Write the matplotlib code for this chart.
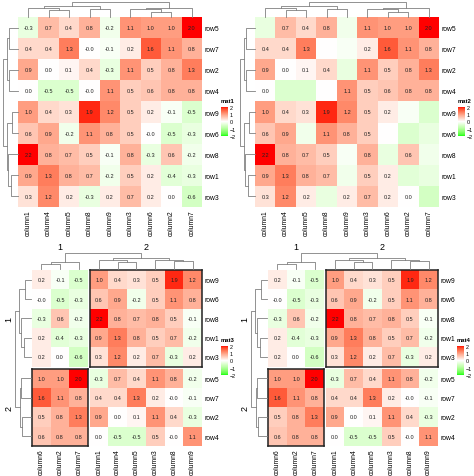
import numpy as np
import matplotlib
matplotlib.use("Agg")
import matplotlib.pyplot as plt
import matplotlib.cm as cm
from matplotlib.colors import ListedColormap, Normalize

plt.rcParams["font.family"] = ["Liberation Sans", "DejaVu Sans"]

rows = ["row1", "row2", "row3", "row4", "row5", "row6", "row7", "row8", "row9"]
cols = ["column1", "column2", "column3", "column4", "column5",
        "column6", "column7", "column8", "column9"]
values = np.array([
    [0.9, -0.4, 0.5, 1.3, 0.8, 0.2, -0.3, 0.7, -0.2],    # row1
    [0.9, 0.8, 1.1, 0.0, 0.1, 0.5, 1.3, 0.4, -0.3],      # row2
    [0.3, 0.0, 0.7, 1.2, 0.2, 0.2, -0.6, -0.3, 0.2],     # row3
    [0.0, 0.8, 0.5, -0.5, -0.5, 0.6, 0.8, -0.0, 1.1],    # row4
    [-0.3, 1.0, 1.1, 0.7, 0.4, 1.0, 2.0, 0.8, -0.2],     # row5
    [0.6, -0.5, 0.5, 0.9, -0.2, -0.0, -0.3, 1.1, 0.8],   # row6
    [0.4, 1.1, 0.2, 0.4, 1.3, 1.6, 0.8, -0.0, -0.1],     # row7
    [2.2, 0.6, 0.8, 0.8, 0.7, -0.3, -0.2, 0.5, -0.1],    # row8
    [1.0, -0.1, 0.5, 0.4, 0.3, 0.2, -0.5, 1.9, 1.2],     # row9
])

# tree shapes as seen in the figure (heights come from complete linkage)
row_tree = ((("row5", "row7"), ("row2", "row4")),
            (("row9", "row6"), ("row8", ("row1", "row3"))))
col_tree = ((("column1", ("column4", "column5")), ("column8", "column9")),
            (("column3", ("column6", "column2")), "column7"))
row_split_trees = [(("row9", "row6"), ("row8", ("row1", "row3"))),
                   (("row5", "row7"), ("row2", "row4"))]
col_split_trees = [(("column6", "column2"), "column7"),
                   (("column1", ("column4", "column5")), ("column3", ("column8", "column9")))]

breaks = [-2, 0, 2]
stops = [(0, 1, 0), (1, 1, 1), (1, 0, 0)]

W, H = 474, 477
fig = plt.figure(figsize=(W / 100, H / 100), dpi=100)

# --- colour ramp interpolated in LAB, like colorRamp2
M = np.array([[0.4124, 0.3576, 0.1805], [0.2126, 0.7152, 0.0722], [0.0193, 0.1192, 0.9505]])
wref = np.array([0.95047, 1.0, 1.08883])


def rgb_to_lab(rgb):
    c = np.asarray(rgb, float)
    lin = np.where(c > 0.04045, ((c + 0.055) / 1.055) ** 2.4, c / 12.92)
    xyz = M @ lin / wref
    f = np.where(xyz > 0.008856, np.cbrt(xyz), 7.787 * xyz + 16 / 116)
    return np.array([116 * f[1] - 16, 500 * (f[0] - f[1]), 200 * (f[1] - f[2])])


def lab_to_rgb(lab):
    L, a, b = lab
    fy = (L + 16) / 116
    f = np.array([fy + a / 500, fy, fy - b / 200])
    xyz = np.where(f ** 3 > 0.008856, f ** 3, (f - 16 / 116) / 7.787) * wref
    lin = np.clip(np.linalg.solve(M, xyz), 0, 1)
    c = np.where(lin > 0.0031308, 1.055 * lin ** (1 / 2.4) - 0.055, 12.92 * lin)
    return np.clip(c, 0, 1)


labs = [rgb_to_lab(s) for s in stops]
ramp = []
for v in np.linspace(-2, 2, 256):
    k = 0 if v < 0 else 1
    t = (v - breaks[k]) / (breaks[k + 1] - breaks[k])
    ramp.append(lab_to_rgb((1 - t) * labs[k] + t * labs[k + 1]))
cmap = ListedColormap(ramp)
norm = Normalize(-2, 2)


def add_ax(x, y, w, h):
    return fig.add_axes([x / W, 1 - (y + h) / H, w / W, h / H])


def leaves(t):
    return [t] if isinstance(t, str) else leaves(t[0]) + leaves(t[1])


def vec(name):
    if name in rows:
        return values[rows.index(name)]
    return values[:, cols.index(name)]


def height(t):
    a, b = leaves(t[0]), leaves(t[1])
    return max(np.linalg.norm(vec(p) - vec(q)) for p in a for q in b)


def layout(t, pos):
    if isinstance(t, str):
        return pos[t], 0.0, []
    c1, h1, s1 = layout(t[0], pos)
    c2, h2, s2 = layout(t[1], pos)
    h = height(t)
    return (c1 + c2) / 2, h, s1 + s2 + [[(c1, h1), (c1, h), (c2, h), (c2, h2)]]


def tree_segments(trees, pos):
    if len(trees) == 1:
        return layout(trees[0], pos)[1:]
    ca, ha, sa = layout(trees[0], pos)
    cb, hb, sb = layout(trees[1], pos)
    hp = 1.4 * max(ha, hb)
    return hp, sa + sb + [[(ca, ha), (ca, hp), (cb, hp), (cb, hb)]]


def draw_dendro(ax, trees, pos, size, horizontal):
    hmax, segs = tree_segments(trees, pos)
    for s in segs:
        p, h = zip(*s)
        if horizontal:
            ax.plot(p, h, color="#808080", lw=0.6, clip_on=False)
        else:
            ax.plot(h, p, color="#808080", lw=0.6, clip_on=False)
    if horizontal:
        ax.set_xlim(0, size)
        ax.set_ylim(0, hmax)
    else:
        ax.set_xlim(hmax, 0)
        ax.set_ylim(size, 0)
    ax.axis("off")


def draw_cells(ax, rnames, cnames, show_neg, row_lab, col_lab, box):
    sub = values[np.ix_([rows.index(r) for r in rnames], [cols.index(c) for c in cnames])]
    ax.pcolormesh(sub, cmap=cmap, norm=norm)
    ax.set_xlim(0, len(cnames))
    ax.set_ylim(len(rnames), 0)
    for i in range(len(rnames)):
        for j in range(len(cnames)):
            v = sub[i, j]
            if show_neg or np.copysign(1, v) > 0:
                ax.text(j + 0.5, i + 0.5, f"{v:.1f}", ha="center", va="center",
                        fontsize=4.0, color="#222222")
    ax.yaxis.tick_right()
    if row_lab:
        ax.set_yticks(np.arange(len(rnames)) + 0.5, rnames, fontsize=4.9)
    else:
        ax.set_yticks([])
    if col_lab:
        ax.set_xticks(np.arange(len(cnames)) + 0.5, cnames, fontsize=4.9, rotation=90)
    else:
        ax.set_xticks([])
    ax.tick_params(length=0, pad=1.6)
    for s in ax.spines.values():
        s.set_visible(box)
        s.set_linewidth(1.1)
        s.set_color("#222222")


def draw_legend(x, y, name):
    fig.text(x / W, 1 - y / H, name, fontsize=4.2, fontweight="bold", va="bottom")
    cax = add_ax(x, y + 4, 7, 29)
    cb = fig.colorbar(cm.ScalarMappable(norm=norm, cmap=cmap), cax=cax, ticks=[-2, -1, 0, 1, 2])
    cb.outline.set_visible(False)
    cax.tick_params(labelsize=3.9, length=0, pad=1.0)


def plain_panel(ox, name, show_neg):
    bx, by, bw, bh = ox + 18, 18, 184, 190
    rnames, cnames = leaves(row_tree), leaves(col_tree)
    body = add_ax(bx, by, bw, bh)
    draw_cells(body, rnames, cnames, show_neg, True, True, False)
    cw, ch = bw / len(cnames), bh / len(rnames)
    draw_dendro(add_ax(bx, 3, bw, 14.5), [col_tree],
                {c: (j + 0.5) * cw for j, c in enumerate(cnames)}, bw, True)
    draw_dendro(add_ax(ox + 2.5, by, 15, bh), [row_tree],
                {r: (i + 0.5) * ch for i, r in enumerate(rnames)}, bh, False)
    draw_legend(ox + 221, 104, name)


def split_panel(ox, name):
    bx, by, bw, bh = ox + 32, 271, 170, 176
    gx, gy = 1.5, 2.0
    rs = [leaves(t) for t in row_split_trees]
    cs = [leaves(t) for t in col_split_trees]
    cw, ch = (bw - gx) / 9, (bh - gy) / 9
    xs = [0, len(cs[0]) * cw + gx]
    ys = [0, len(rs[0]) * ch + gy]
    for i, rn in enumerate(rs):
        for j, cn in enumerate(cs):
            ax = add_ax(bx + xs[j], by + ys[i], len(cn) * cw, len(rn) * ch)
            draw_cells(ax, rn, cn, True, j == 1, i == 1, (i, j) in [(0, 1), (1, 0)])
    cpos = {c: xs[j] + (k + 0.5) * cw for j, cn in enumerate(cs) for k, c in enumerate(cn)}
    rpos = {r: ys[i] + (k + 0.5) * ch for i, rn in enumerate(rs) for k, r in enumerate(rn)}
    draw_dendro(add_ax(bx, 254, bw, 16), col_split_trees, cpos, bw, True)
    draw_dendro(add_ax(ox + 15, by, 15.5, bh), row_split_trees, rpos, bh, False)
    for j, cn in enumerate(cs):
        cx = bx + xs[j] + len(cn) * cw / 2
        fig.text(cx / W, 1 - 248 / H, str(j + 1), fontsize=6.5, ha="center", va="center")
    for i, rn in enumerate(rs):
        cy = by + ys[i] + len(rn) * ch / 2
        fig.text((ox + 9) / W, 1 - cy / H, str(i + 1), fontsize=6.5, rotation=90,
                 ha="center", va="center")
    draw_legend(ox + 221, 343, name)


plain_panel(0, "mat1", True)
plain_panel(237, "mat2", False)
split_panel(0, "mat3")
split_panel(236, "mat4")

fig.savefig("out.png", dpi=100)
